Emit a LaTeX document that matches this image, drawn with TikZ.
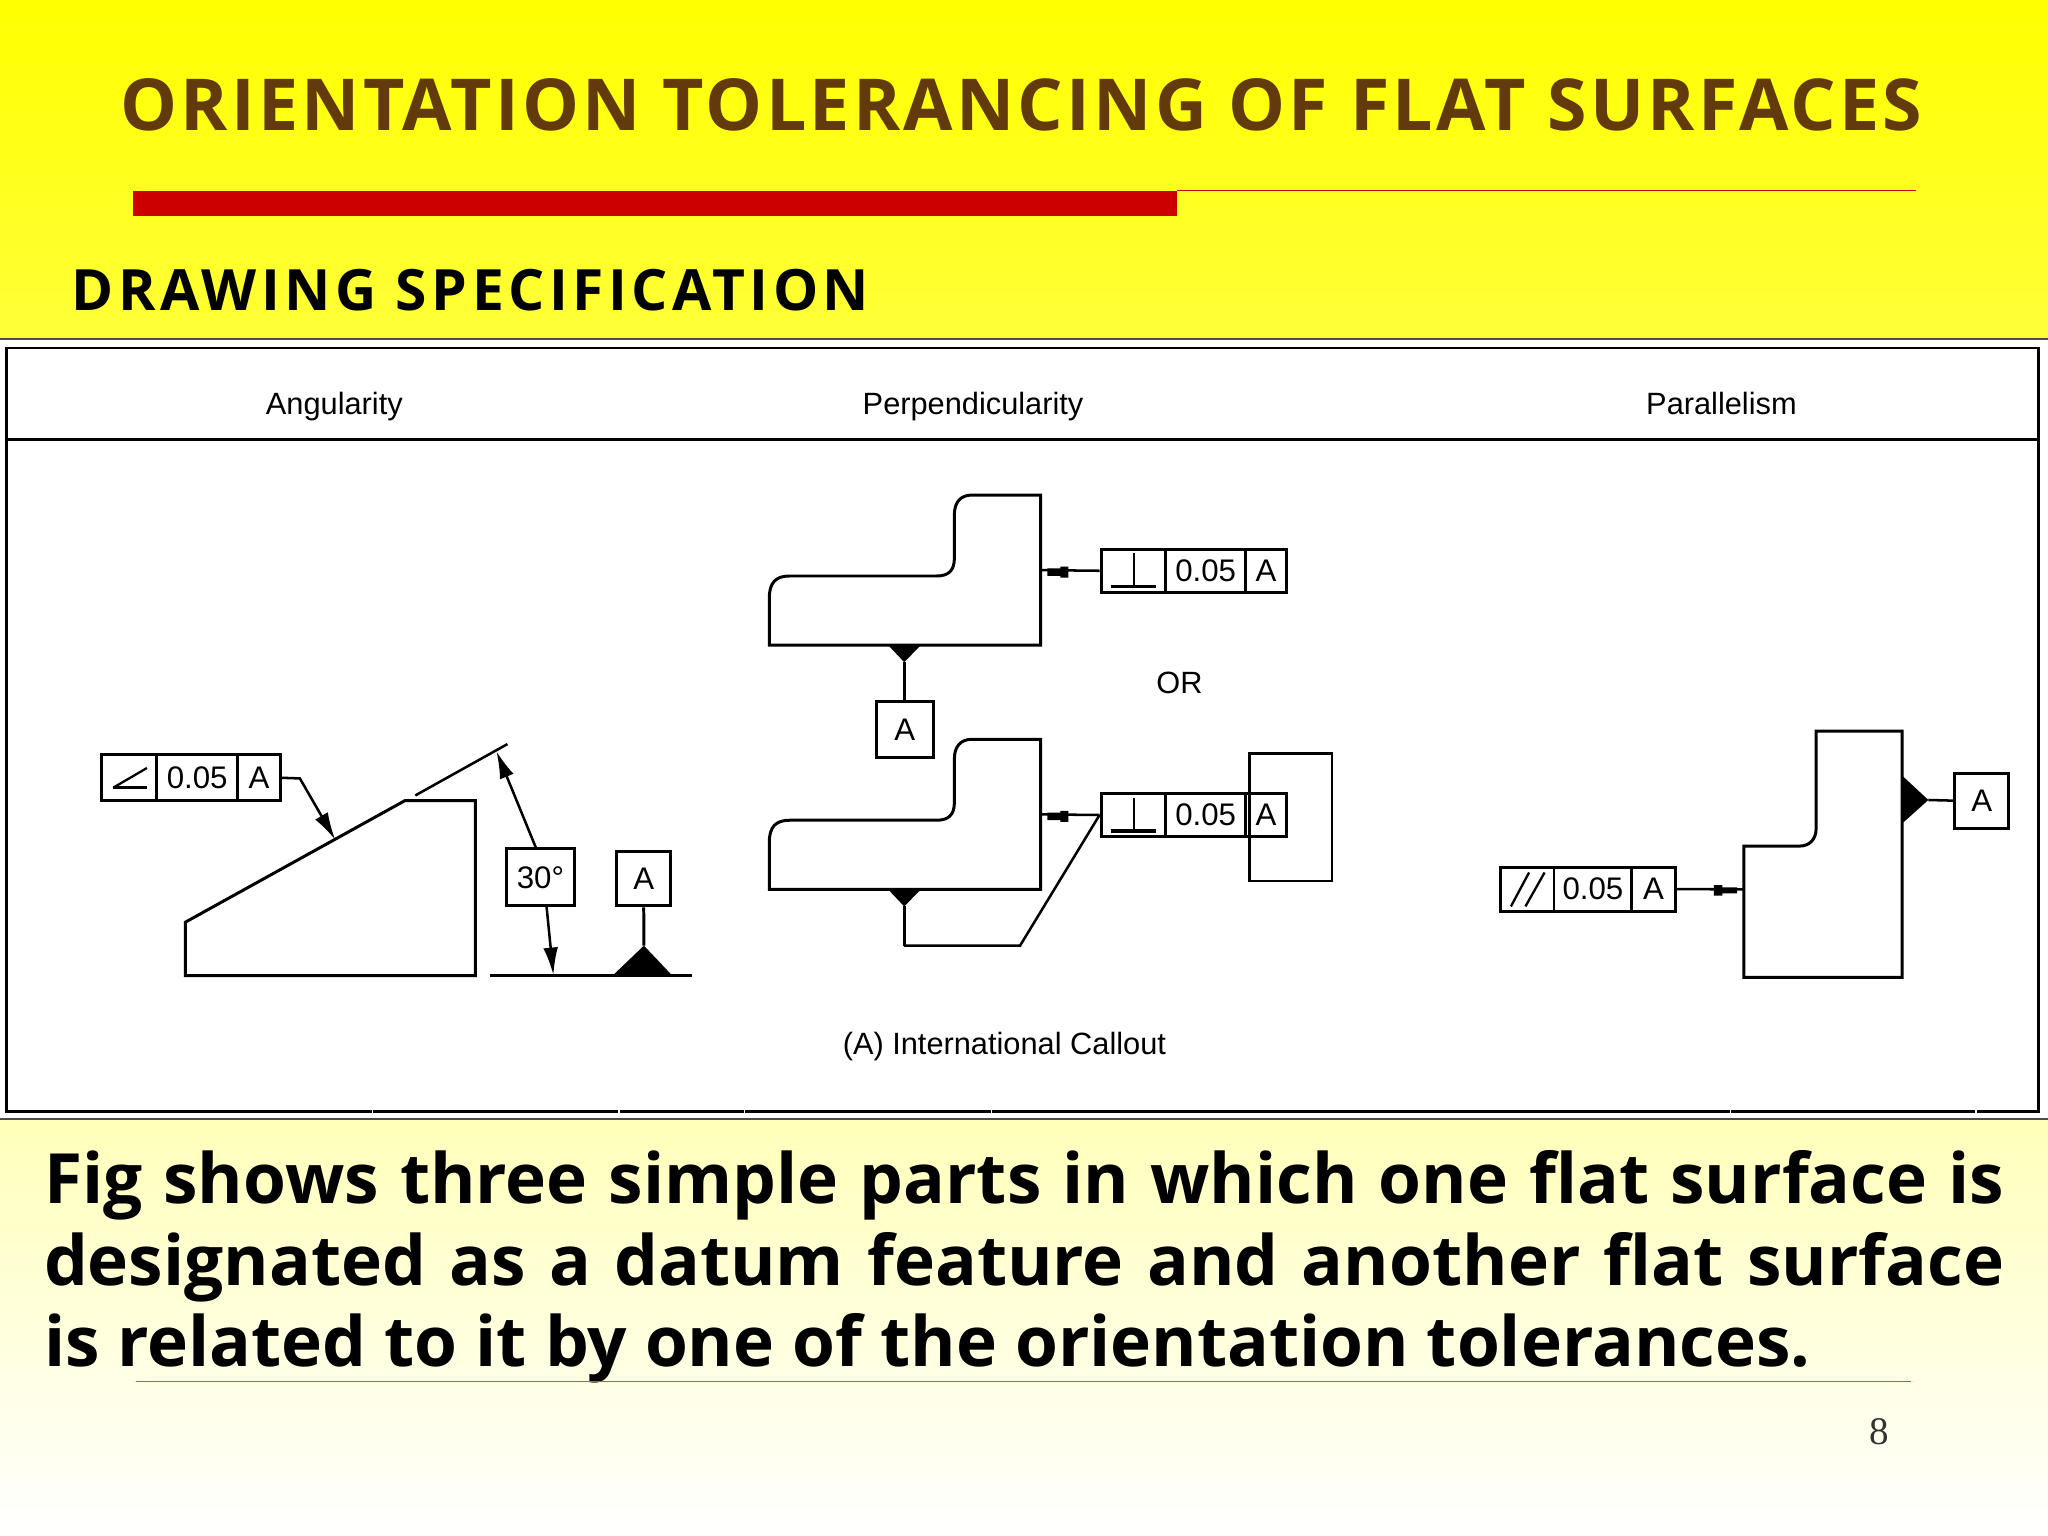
\documentclass[tikz,border=0pt]{standalone}
\usepackage{fontspec}
\setmainfont{Liberation Sans}
\newfontfamily\headfont[LetterSpace=4.5]{Open Sans Bold}
\newfontfamily\subfont[LetterSpace=7.9]{Open Sans Bold}
\newfontfamily\bodyfont{Open Sans Bold}
\newfontfamily\numfont{Liberation Serif}
\usetikzlibrary{positioning,arrows.meta}
\definecolor{titlebrown}{HTML}{633A0C}
\definecolor{barred}{HTML}{CC0000}
\tikzset{
    fcell/.style={draw,rectangle,inner sep=0pt,line width=0.65pt,fill=white,font=\fontsize{6.8}{8}\selectfont},
    partline/.style={line width=0.65pt,line join=miter},
    leadline/.style={line width=0.55pt},
    leadarrow/.style={line width=0.55pt,-{Latex[length=6pt,width=3.2pt]}},
    capt/.style={inner sep=0pt,anchor=base,font=\fontsize{6.7}{8}\selectfont}
}
\begin{document}
\begin{tikzpicture}[x=0.01cm,y=-0.01cm]
        \useasboundingbox (0,0) rectangle (1568,1176);
        \shade[top color=yellow,bottom color=white] (0,0) rectangle (1568,1176);

        % heading
        \node[inner sep=0pt,text=titlebrown,font=\headfont\fontsize{15.6}{18}\selectfont] (title) at (782,80) {ORIENTATION TOLERANCING OF FLAT SURFACES};
        \fill[barred] (102,146) rectangle (901,165);
        \draw[barred,line width=0.3pt] (901,146) -- (1467,146);
        \node[inner sep=0pt,anchor=west,font=\subfont\fontsize{12.4}{15}\selectfont] (subtitle) at (54,222) {DRAWING SPECIFICATION};

        % panel
        \draw[fill=white,draw=black!70,line width=0.4pt] (-2,259.5) rectangle (1570,856.5);
        \draw[line width=0.6pt] (5,266.5) rectangle (1561,851);
        \draw[line width=0.6pt] (5,336.5) -- (1561,336.5);
        \foreach \x in {285,474,570,759,1325,1513}
            \draw[white,line width=0.3pt] (\x,850) -- (\x,852);
        \node[capt] (angcap) at (256,317) {Angularity};
        \node[capt] (percap) at (745,317) {Perpendicularity};
        \node[capt] (parcap) at (1318,317) {Parallelism};
        \node[capt] (orcap) at (903,531) {OR};
        \node[capt] (intcap) at (769,807) {(A) International Callout};

        % angularity
        \draw[partline] (142,706) -- (310,613) -- (364,613) -- (364,747) -- (142,747) -- cycle;
        \draw[leadline] (318,609) -- (388.5,569.7);
        \draw[partline] (375.5,746.6) -- (530,746.6);
        \node[fcell,minimum width=0.42cm,minimum height=0.35cm] (angsym) at (99,595.5) {};
        \node[fcell,minimum width=0.62cm,minimum height=0.35cm] (angval) at (151,595.5) {0.05};
        \node[fcell,minimum width=0.325cm,minimum height=0.35cm] (angdat) at (198.25,595.5) {A};
        \node[fcell,minimum width=0.515cm,minimum height=0.435cm] (angle) at (413.75,671.75) {30\textdegree};
        \node[fcell,minimum width=0.417cm,minimum height=0.415cm] (angbox) at (492.85,672.75) {A};
        \draw[line width=0.5pt] (86.8,603) -- (112.5,588);
        \draw[line width=0.8pt] (86.8,603) -- (112.5,603);
        \coordinate (angknee) at (229.6,596);
        \coordinate (angtip) at (256.7,643);
        \coordinate (angtop) at (380,575);
        \coordinate (angup) at (410.7,650);
        \coordinate (angdn) at (418.4,693.5);
        \coordinate (angbase) at (423.7,746.6);
        \coordinate (angapex) at (493,724);
        \draw[leadarrow] (angdat.east) -- (angknee) -- (angtip);
        \draw[leadarrow] (angup) -- (angtop);
        \draw[leadarrow] (angdn) -- (angbase);
        \draw[line width=0.65pt] (angbox.south) -- (angapex);
        \fill (angapex) -- (514.4,746.6) -- (469.4,746.6) -- cycle;

        % perpendicularity, two callouts
        \foreach \o in {0,187}
            \draw[partline] (589,458+\o) .. controls (589,446+\o) and (594,441+\o) .. (604.5,441+\o) -- (717,441+\o)
                .. controls (726,441+\o) and (730.7,437+\o) .. (730.7,427.5+\o) -- (730.7,394+\o)
                .. controls (730.7,385+\o) and (735,379+\o) .. (744.3,379+\o) -- (796.7,379+\o) -- (796.7,494+\o) -- (589,494+\o) -- cycle;

        \node[fcell,minimum width=0.497cm,minimum height=0.333cm] (persym) at (867.85,437) {};
        \node[fcell,minimum width=0.608cm,minimum height=0.333cm] (perval) at (923.1,437) {0.05};
        \node[fcell,minimum width=0.315cm,minimum height=0.333cm] (perdat) at (969.25,437) {A};
        \node[fcell,minimum width=0.436cm,minimum height=0.43cm] (perbox) at (692.8,558.5) {A};
        \coordinate (perface) at (796.7,436.5);
        \coordinate (perapex) at (692.3,507);
        \draw[leadline] (persym.west) -- (perface);
        \fill (801.8,435.1) -- (811.8,435.1) -- (811.8,433.9) -- (817.9,433.9) -- (817.9,442.2) -- (811.8,442.2) -- (811.8,441) -- (801.8,441) -- cycle;
        \fill (680,494) -- (705,494) -- (perapex) -- cycle;
        \draw[line width=0.65pt] (perapex) -- (perbox.north -| perapex);

        \node[fcell,minimum width=0.497cm,minimum height=0.333cm] (orsym) at (867.85,624) {};
        \node[fcell,minimum width=0.608cm,minimum height=0.333cm] (orval) at (923.1,624) {0.05};
        \node[fcell,fill=none,minimum width=0.315cm,minimum height=0.333cm] (ordat) at (969.25,624) {A};
        \draw[line width=0.5pt] (956.6,577) rectangle (1019.6,674.4);
        \coordinate (orface) at (796.7,623.5);
        \coordinate (orapex) at (692.3,694);
        \coordinate (orknee) at (781,724);
        \coordinate (orcorner) at (692.3,724);
        \draw[leadline] (orsym.west) -- (orface);
        \fill (801.8,622.1) -- (811.8,622.1) -- (811.8,620.9) -- (817.9,620.9) -- (817.9,629.2) -- (811.8,629.2) -- (811.8,628) -- (801.8,628) -- cycle;
        \fill (680,681) -- (705,681) -- (orapex) -- cycle;
        \draw[leadline] (orsym.west) -- (orknee) -- (orcorner);
        \draw[line width=0.65pt] (orcorner) -- (orapex);

        \foreach \o in {0,187} {
            \draw[line width=0.5pt] (868,423.7+\o) -- (868,449.2+\o);
            \draw[line width=0.7pt] (850.6,449.2+\o) -- (885.4,449.2+\o);
        }

        % parallelism
        \draw[partline] (1335.2,647.8) -- (1377.7,647.8) .. controls (1385,647.8) and (1390.5,643) .. (1390.5,634.2)
            -- (1390.5,559.7) -- (1456.4,559.7) -- (1456.4,748.3) -- (1335.2,748.3) -- cycle;
        \node[fcell,minimum width=0.413cm,minimum height=0.335cm] (parsym) at (1169.15,680.75) {};
        \node[fcell,minimum width=0.596cm,minimum height=0.335cm] (parval) at (1219.6,680.75) {0.05};
        \node[fcell,minimum width=0.331cm,minimum height=0.335cm] (pardat) at (1265.95,680.75) {A};
        \node[fcell,minimum width=0.414cm,minimum height=0.42cm] (parbox) at (1517.3,613) {A};
        \draw[line width=0.5pt] (1156.8,694) -- (1170.7,668);
        \draw[line width=0.5pt] (1167.9,694) -- (1182.6,668);
        \coordinate (parface) at (1335.2,680.9);
        \coordinate (parapex) at (1476.4,612.5);
        \draw[leadline] (pardat.east) -- (parface);
        \fill (1312.2,677.6) -- (1318.6,677.6) -- (1318.6,679.4) -- (1330,679.4) -- (1330,684) -- (1318.6,684) -- (1318.6,685.8) -- (1312.2,685.8) -- cycle;
        \fill (1456.4,593.9) -- (parapex) -- (1456.4,630.4) -- cycle;
        \draw[leadline] (parapex) -- (parbox.west);

        % description
        \node[inner sep=0pt,anchor=north west,text width=15cm,align=justify,font=\bodyfont\fontsize{15.1}{17.8}\selectfont] (desc) at (33,880)
            {Fig shows three simple parts in which one flat surface is\linebreak designated as a datum feature and another flat surface\linebreak is related to it by one of the orientation tolerances.};
        \draw[barred!70,line width=0.2pt] (104,1058) -- (1463,1058);
        \node[inner sep=0pt,text=black!80,font=\numfont\fontsize{8.5}{10}\selectfont] (pageno) at (1439,1096) {8};
\end{tikzpicture}
\end{document}
